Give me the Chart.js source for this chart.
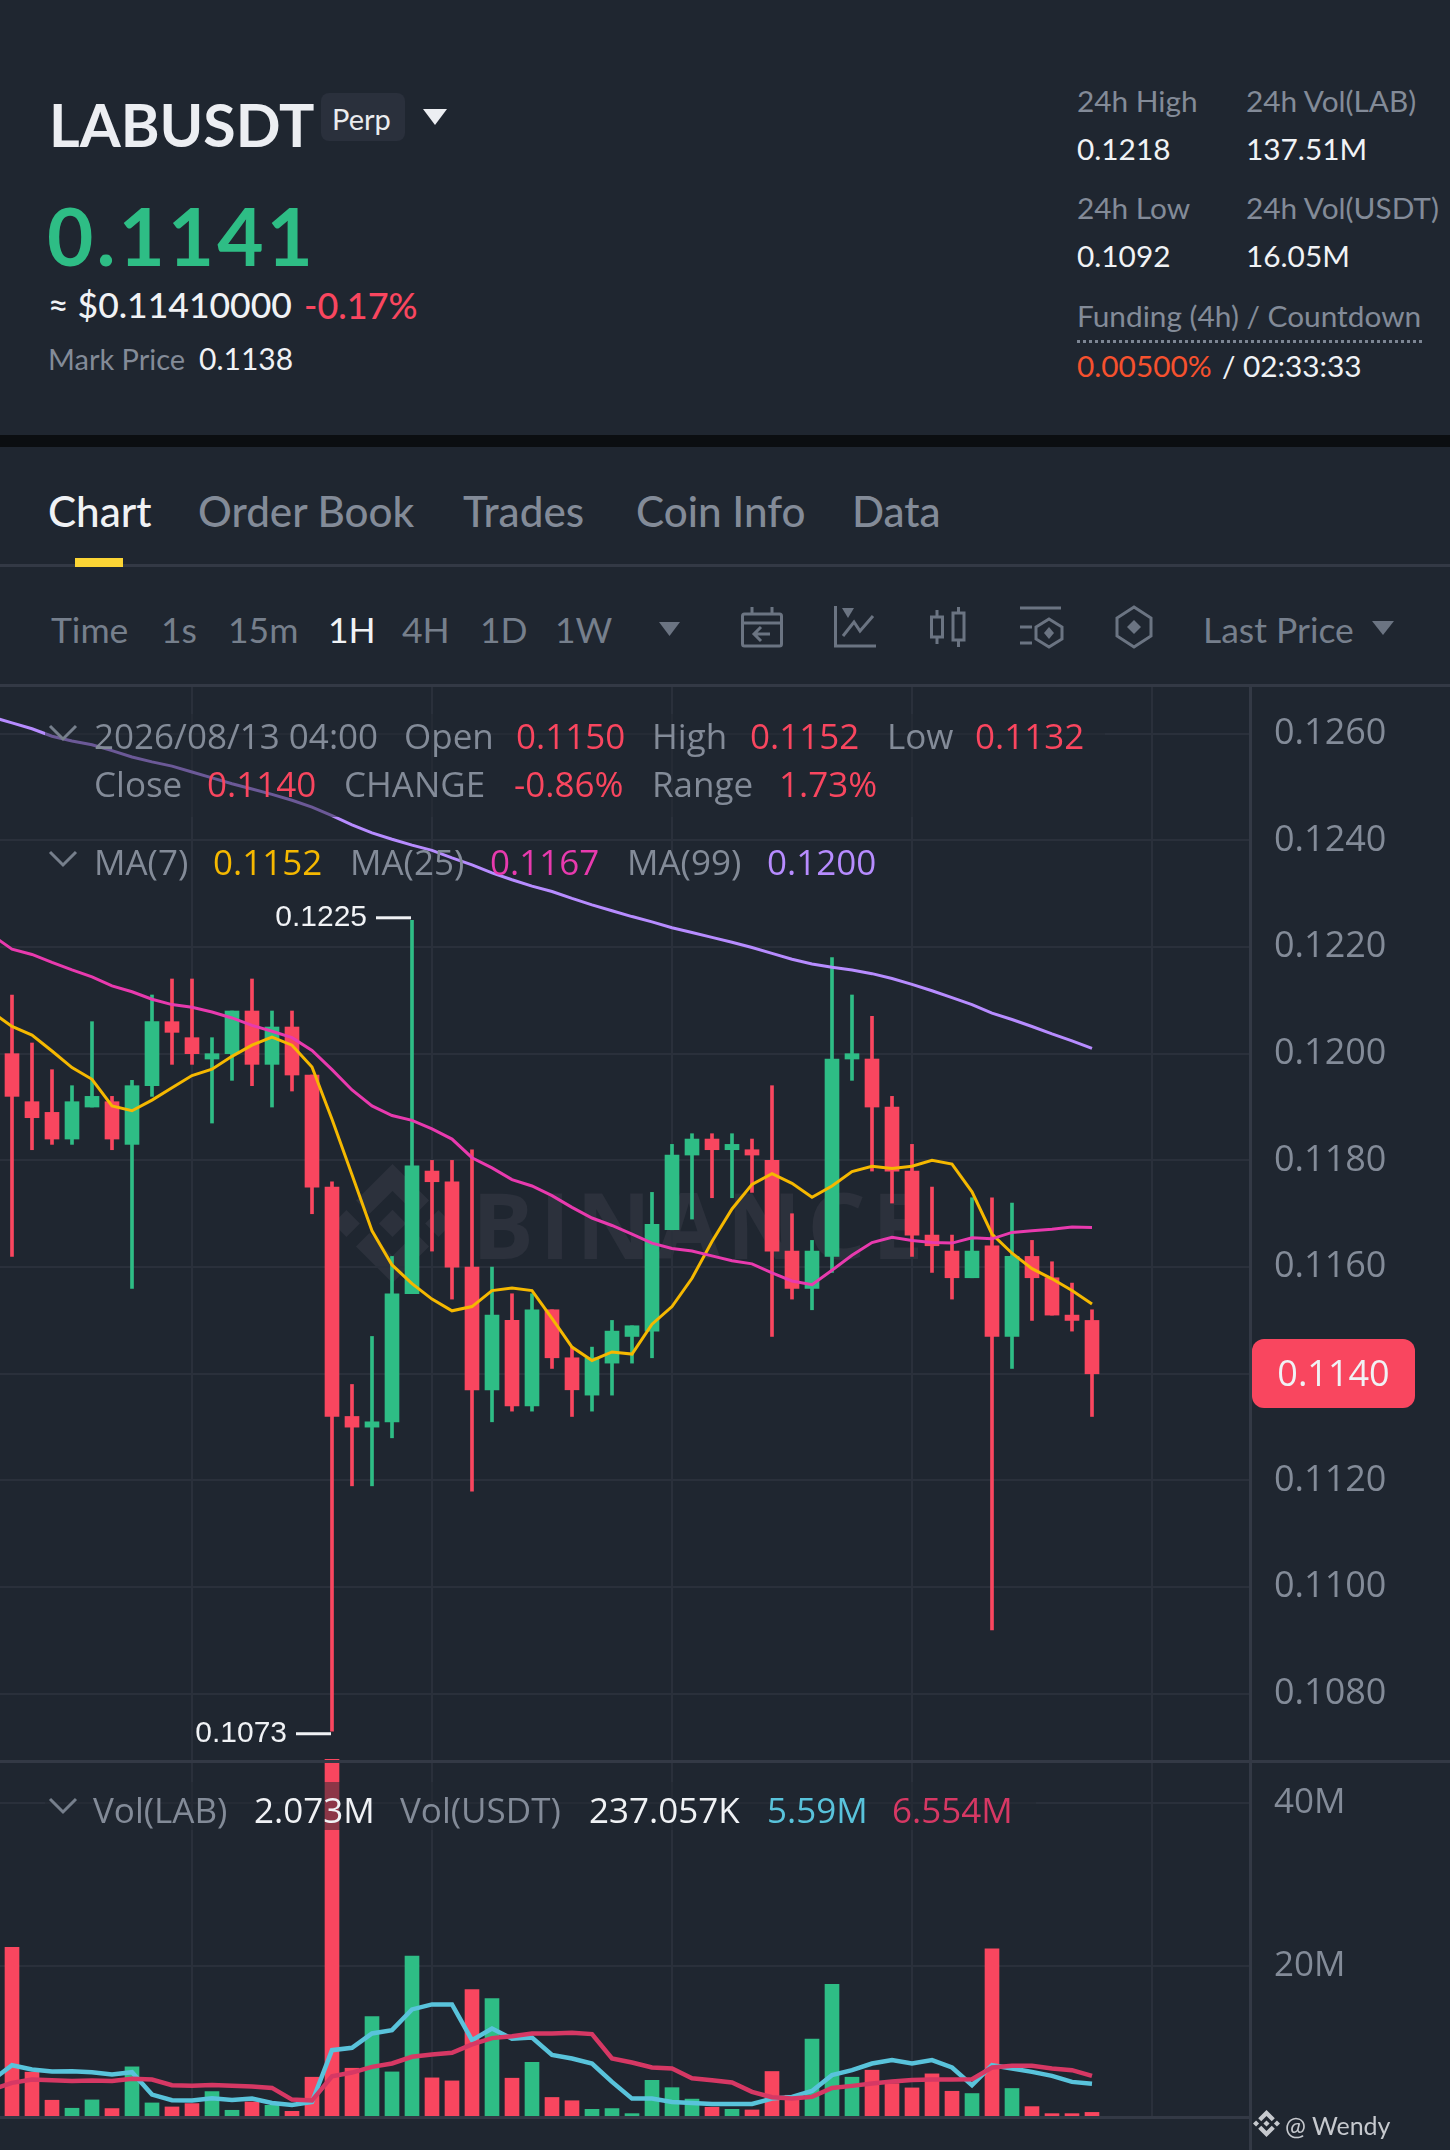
<!DOCTYPE html>
<html>
<head>
<meta charset="utf-8">
<title>LABUSDT Perp</title>
<script src="https://cdn.jsdelivr.net/npm/chart.js@4/dist/chart.umd.min.js"></script>
<style>
    html, body { margin: 0; padding: 0; background: #1f2630; }
    #page { position: relative; width: 1450px; height: 2150px; overflow: hidden; background: #1f2630; font-family: Lato, "Open Sans", sans-serif; color: #eaecef; }
    .t { position: absolute; transform: translateY(-50%); white-space: nowrap; line-height: 1; }
    .g { color: #838b98; }
    .w { color: #f0f2f5; }
    .r { color: #f9465f; }
    .i { color: #767f8c; }
    .rule { position: absolute; background: #333945; }
    .lg { font-size: 35px; font-family: "Open Sans", sans-serif; }
    .hd { font-size: 29.8px; }
    .tab { font-size: 42.2px; font-weight: 500; }
    .tf { font-size: 35.5px; }
    canvas { position: absolute; left: 0; }
    svg { position: absolute; overflow: visible; }
    .ico * { fill: none; stroke: #6b7482; stroke-width: 3; }
    .ico .solid { fill: #6b7482; stroke: none; }
    .legendbg { position: absolute; background: rgba(31, 38, 48, 0.5); }
</style>
</head>
<body>
<div id="page">
    <!-- summary block -->
    <div class="t" style="left:49px;top:124px;font-size:59px;font-weight:700;color:#eceef2;">LABUSDT</div>
    <div style="position:absolute;left:321px;top:93px;width:84px;height:48px;background:#2a303c;border-radius:8px;"></div>
    <div class="t" style="left:332px;top:118px;font-size:29px;">Perp</div>
    <svg style="left:422px;top:109px;" width="26" height="16"><path d="M1 0H25L13 16Z" fill="#eceef2"/></svg>
    <div class="t" style="left:47px;top:235px;font-size:80px;font-weight:700;letter-spacing:3px;color:#2ebd85;">0.1141</div>
    <div class="t w" style="left:48px;top:305px;font-size:35.5px;font-weight:500;">≈ $0.11410000</div>
    <div class="t r" style="left:304px;top:305px;font-size:36px;font-weight:500;">-0.17%</div>
    <div class="t g" style="left:48px;top:358px;font-size:29px;">Mark Price</div>
    <div class="t w" style="left:199px;top:358px;font-size:30px;">0.1138</div>

    <div class="t g hd" style="left:1077px;top:100.5px;">24h High</div>
    <div class="t g hd" style="left:1246px;top:100.5px;">24h Vol(LAB)</div>
    <div class="t w hd" style="left:1077px;top:148.5px;">0.1218</div>
    <div class="t w hd" style="left:1246px;top:148.5px;">137.51M</div>
    <div class="t g hd" style="left:1077px;top:208px;">24h Low</div>
    <div class="t g hd" style="left:1246px;top:208px;">24h Vol(USDT)</div>
    <div class="t w hd" style="left:1077px;top:256px;">0.1092</div>
    <div class="t w hd" style="left:1246px;top:256px;">16.05M</div>
    <div class="t g hd" style="left:1077px;top:316px;">Funding (4h) / Countdown</div>
    <div style="position:absolute;left:1077px;top:340px;width:345px;border-top:3px dotted #7d8694;"></div>
    <div class="t hd" style="left:1077px;top:366px;color:#f6512e;">0.00500%</div>
    <div class="t w hd" style="left:1222px;top:366px;">/</div>
    <div class="t w hd" style="left:1243px;top:366px;">02:33:33</div>

    <div style="position:absolute;left:0;top:435px;width:1450px;height:12px;background:#0b0e11;"></div>

    <!-- tabs -->
    <div class="t tab w" style="left:48px;top:511px;">Chart</div>
    <div class="t tab g" style="left:198px;top:511px;">Order Book</div>
    <div class="t tab g" style="left:463px;top:511px;">Trades</div>
    <div class="t tab g" style="left:636px;top:511px;">Coin Info</div>
    <div class="t tab g" style="left:852px;top:511px;">Data</div>
    <div class="rule" style="left:0;top:564px;width:1450px;height:3px;"></div>
    <div style="position:absolute;left:75px;top:558px;width:48px;height:9px;background:#fcd535;"></div>

    <!-- interval toolbar -->
    <div class="t tf i" style="left:51px;top:630px;">Time</div>
    <div class="t tf i" style="left:161px;top:630px;">1s</div>
    <div class="t tf i" style="left:228px;top:630px;">15m</div>
    <div class="t tf w" style="left:328px;top:630px;">1H</div>
    <div class="t tf i" style="left:402px;top:630px;">4H</div>
    <div class="t tf i" style="left:480px;top:630px;">1D</div>
    <div class="t tf i" style="left:555px;top:630px;">1W</div>
    <svg style="left:659px;top:622px;" width="21" height="14"><path d="M0 0H21L10.5 14Z" fill="#6b7482"/></svg>
    <svg class="ico" style="left:741px;top:606px;" width="42" height="42">
        <rect x="1.5" y="8" width="39" height="32" rx="2"/><path d="M1.5 17H40.5M11 1V8M31 1V8M29 28H14M20 21L13 28L20 35"/>
    </svg>
    <svg class="ico" style="left:834px;top:606px;" width="42" height="42">
        <path d="M1.5 0V40H42M9 30L20 16L26 25L39 10"/><path class="solid" d="M8 2H20L14 12Z"/>
    </svg>
    <svg class="ico" style="left:930px;top:606px;" width="36" height="42">
        <rect x="1.5" y="11" width="11" height="20"/><rect x="23" y="7" width="11" height="27"/><path d="M7 4V11M7 31V38M28.5 1V7M28.5 34V41"/>
    </svg>
    <svg class="ico" style="left:1020px;top:606px;" width="42" height="42">
        <path d="M0 2H41M0 21H12M0 37H12M29 13L42 21V33L29 41L16 33V21Z"/><path class="solid" d="M29 21L34 27L29 33L24 27Z"/>
    </svg>
    <svg class="ico" style="left:1116px;top:606px;" width="36" height="42">
        <path d="M18 1L35 12V30L18 41L1 30V12Z"/><path class="solid" d="M18 14L25 21L18 28L11 21Z"/>
    </svg>
    <div class="t tf i" style="left:1203px;top:630px;">Last Price</div>
    <svg style="left:1372px;top:621px;" width="22" height="14"><path d="M0 0H22L11 14Z" fill="#6b7482"/></svg>
    <div class="rule" style="left:0;top:684px;width:1450px;height:3px;"></div>

    <!-- watermark sits under the canvases -->
    <svg style="left:333px;top:1164px;" width="119" height="119" viewBox="0 0 126.61 126.61" fill="#2c313c">
        <path d="M38.73 53.2l24.59-24.58 24.6 24.6 14.3-14.31L63.32 0 24.43 38.9z"/>
        <path d="M0 63.31l14.3-14.31 14.31 14.31-14.31 14.3z"/>
        <path d="M38.73 73.41l24.59 24.59 24.6-24.6 14.31 14.29L63.32 126.61 24.42 87.72z"/>
        <path d="M98 63.31l14.3-14.31 14.31 14.3-14.31 14.32z"/>
        <path d="M77.83 63.3L63.32 48.78 48.81 63.28l14.51 14.5z"/>
    </svg>
    <div class="t" style="left:472px;top:1224px;font-family:'Open Sans',sans-serif;font-size:92px;font-weight:700;letter-spacing:6px;color:#2c313c;">BINANCE</div>

    <canvas id="priceChart" style="top:687px;"></canvas>
    <canvas id="volumeChart" style="top:1759px;"></canvas>

    <div class="rule" style="left:0;top:1760px;width:1450px;height:3px;"></div>
    <div class="rule" style="left:0;top:2116px;width:1250px;height:3px;"></div>
    <div class="rule" style="left:1249px;top:687px;width:3px;height:1463px;"></div>

    <!-- legends -->
    <div class="legendbg" style="left:45px;top:714px;width:1060px;height:103px;"></div>
    <svg style="left:49px;top:725px;" width="28" height="16"><path d="M1 1L14 14L27 1" fill="none" stroke="#767f8c" stroke-width="3"/></svg>
    <div class="t lg g" style="left:94px;top:735px;">2026/08/13 04:00</div>
    <div class="t lg g" style="left:404px;top:735px;">Open</div>
    <div class="t lg r" style="left:516px;top:735px;">0.1150</div>
    <div class="t lg g" style="left:652px;top:735px;">High</div>
    <div class="t lg r" style="left:750px;top:735px;">0.1152</div>
    <div class="t lg g" style="left:887px;top:735px;">Low</div>
    <div class="t lg r" style="left:975px;top:735px;">0.1132</div>
    <div class="t lg g" style="left:94px;top:783px;">Close</div>
    <div class="t lg r" style="left:207px;top:783px;">0.1140</div>
    <div class="t lg g" style="left:344px;top:783px;">CHANGE</div>
    <div class="t lg r" style="left:514px;top:783px;">-0.86%</div>
    <div class="t lg g" style="left:652px;top:783px;">Range</div>
    <div class="t lg r" style="left:779px;top:783px;">1.73%</div>

    <svg style="left:49px;top:851px;" width="28" height="16"><path d="M1 1L14 14L27 1" fill="none" stroke="#767f8c" stroke-width="3"/></svg>
    <div class="t lg g" style="left:94px;top:861px;">MA(7)</div>
    <div class="t lg" style="left:213px;top:861px;color:#f5b800;">0.1152</div>
    <div class="t lg g" style="left:350px;top:861px;">MA(25)</div>
    <div class="t lg" style="left:490px;top:861px;color:#e83aae;">0.1167</div>
    <div class="t lg g" style="left:627px;top:861px;">MA(99)</div>
    <div class="t lg" style="left:767px;top:861px;color:#b78cff;">0.1200</div>

    <div class="legendbg" style="left:45px;top:1782px;width:991px;height:48px;"></div>
    <svg style="left:49px;top:1798px;" width="28" height="16"><path d="M1 1L14 14L27 1" fill="none" stroke="#767f8c" stroke-width="3"/></svg>
    <div class="t lg g" style="left:93px;top:1809px;">Vol(LAB)</div>
    <div class="t lg w" style="left:254px;top:1809px;">2.073M</div>
    <div class="t lg g" style="left:400px;top:1809px;">Vol(USDT)</div>
    <div class="t lg w" style="left:589px;top:1809px;">237.057K</div>
    <div class="t lg" style="left:767px;top:1809px;color:#59c3db;">5.59M</div>
    <div class="t lg" style="left:892px;top:1809px;color:#d63864;">6.554M</div>

    <!-- last price tag -->
    <div style="position:absolute;left:1252px;top:1339px;width:163px;height:69px;background:#f9465f;border-radius:12px;"></div>
    <div class="t" style="left:1252px;top:1373px;width:163px;text-align:center;font-family:'Open Sans',sans-serif;font-size:36px;color:#f0f2f5;">0.1140</div>

    <svg style="left:1253px;top:2110px;" width="27" height="27" viewBox="0 0 126.61 126.61" fill="#c6c9ce">
        <path d="M38.73 53.2l24.59-24.58 24.6 24.6 14.3-14.31L63.32 0 24.43 38.9z"/>
        <path d="M0 63.31l14.3-14.31 14.31 14.31-14.31 14.3z"/>
        <path d="M38.73 73.41l24.59 24.59 24.6-24.6 14.31 14.29L63.32 126.61 24.42 87.72z"/>
        <path d="M98 63.31l14.3-14.31 14.31 14.3-14.31 14.32z"/>
        <path d="M77.83 63.3L63.32 48.78 48.81 63.28l14.51 14.5z"/>
    </svg>
    <div class="t" style="left:1285px;top:2125px;font-size:25px;color:#c6c9ce;">@ Wendy</div>
</div>

<script>
// Hourly candles
const openPrices = [.1200,.1191,.1189,.1184,.1190,.1191,.1183,.1194,.1206,.1203,.1199,.1200,.1208,.1198,.1205,.1196,.1175,.1132,.1130,.1131,.1155,.1178,.1176,.1160,.1137,.1150,.1134,.1152,.1143,.1136,.1142,.1147,.1148,.1167,.1181,.1184,.1182,.1182,.1180,.1163,.1156,.1162,.1199,.1199,.1190,.1178,.1166,.1163,.1158,.1164,.1147,.1162,.1158,.1151,.1150];
const closePrices = [.1192,.1188,.1184,.1191,.1192,.1184,.1194,.1206,.1204,.1200,.1200,.1208,.1198,.1205,.1196,.1175,.1132,.1130,.1131,.1155,.1179,.1176,.1160,.1137,.1151,.1134,.1152,.1143,.1137,.1143,.1148,.1149,.1168,.1181,.1184,.1182,.1183,.1181,.1163,.1156,.1163,.1199,.1200,.1190,.1178,.1166,.1164,.1158,.1163,.1147,.1162,.1158,.1151,.1150,.1140];
const highPrices = [.1211,.1202,.1197,.1194,.1206,.1192,.1195,.1211,.1214,.1214,.1203,.1208,.1214,.1208,.1208,.1196,.1176,.1138,.1147,.1162,.1225,.1180,.1180,.1182,.1160,.1155,.1155,.1152,.1145,.1145,.1150,.1149,.1174,.1183,.1185,.1185,.1185,.1184,.1194,.1170,.1165,.1218,.1211,.1207,.1192,.1183,.1175,.1166,.1173,.1173,.1172,.1165,.1161,.1157,.1152];
const lowPrices = [.1162,.1182,.1183,.1183,.1190,.1182,.1156,.1192,.1198,.1198,.1187,.1195,.1194,.1190,.1193,.1170,.1073,.1119,.1119,.1128,.1155,.1163,.1154,.1118,.1131,.1133,.1133,.1141,.1132,.1133,.1136,.1142,.1143,.1167,.1169,.1173,.1173,.1174,.1147,.1154,.1152,.1159,.1195,.1178,.1172,.1162,.1159,.1154,.1158,.1092,.1141,.1150,.1151,.1148,.1132];
const volumes = [22.3,7.0,3.56,2.58,3.6,2.54,7.65,3.23,2.74,3.15,4.62,2.33,3.35,2.94,2.2,6.38,47.5,7.48,13.8,7.03,21.2,6.3,5.93,17.1,16.0,6.26,8.2,3.9,3.5,2.45,2.54,1.92,6.0,5.1,3.7,2.7,2.45,2.37,7.08,4.17,11.04,17.75,6.38,7.24,5.6,5.07,6.79,4.66,4.38,22.1,5.0,2.78,1.92,1.92,2.07];

// Moving averages start one candle earlier, just left of the visible area
const ma7 = [.12078,.12051,.12035,.12005,.11974,.11952,.11902,.11893,.11913,.11936,.11959,.11971,.11995,.12016,.12031,.12016,.11975,.11877,.11773,.11668,.11604,.11569,.11540,.11518,.11526,.11556,.11561,.11556,.11504,.11450,.11425,.11441,.11437,.11493,.11526,.11579,.11648,.11709,.11755,.11775,.11757,.11731,.11752,.11779,.11789,.11785,.11789,.11800,.11793,.11741,.11662,.11626,.11597,.11578,.11556,.11531];
const ma25 = [.12222,.12196,.12186,.12171,.12157,.12144,.12127,.12116,.12102,.12092,.12087,.12078,.12067,.12053,.12042,.12030,.12006,.11970,.11932,.11902,.11884,.11875,.11859,.11840,.11805,.11786,.11764,.11752,.11734,.11712,.11692,.11678,.11662,.11645,.11635,.11630,.11621,.11612,.11606,.11589,.11574,.11567,.11594,.11622,.11646,.11656,.11650,.11646,.11645,.11655,.11653,.11665,.11668,.11671,.11675,.11674];
const ma99 = [.12631,.12620,.12609,.12595,.12586,.12579,.12568,.12556,.12547,.12539,.12528,.12517,.12506,.12496,.12486,.12475,.12462,.12446,.12429,.12414,.12402,.12391,.12381,.12367,.12354,.12339,.12326,.12314,.12304,.12291,.12279,.12268,.12257,.12247,.12236,.12227,.12218,.12209,.12199,.12188,.12177,.12168,.12162,.12157,.12150,.12141,.12130,.12118,.12105,.12092,.12076,.12064,.12051,.12037,.12024,.12010];
const volMaShort = [6.01,7.85,7.32,7.08,7.12,6.99,6.71,6.99,4.25,3.56,3.52,3.80,3.60,3.76,3.23,2.99,3.35,9.69,9.98,11.74,12.15,14.68,15.30,15.30,10.92,12.35,11.08,11.25,9.10,8.67,8.06,5.81,3.76,3.76,3.35,3.23,3.11,3.11,3.11,3.76,3.97,4.70,6.63,7.24,8.06,8.47,8.06,8.47,7.57,5.40,7.85,7.44,7.03,6.54,5.81,5.59];
const volMaLong = [4.87,5.69,6.09,6.01,5.93,5.97,5.93,6.18,6.09,5.40,5.32,5.44,5.32,5.24,5.07,3.64,3.52,6.50,6.95,7.65,8.06,8.88,9.16,9.37,10.39,11.17,11.41,11.74,11.74,11.82,11.66,8.67,8.18,7.57,7.44,6.26,6.01,5.73,4.58,3.93,3.76,3.97,5.07,5.32,5.60,5.85,6.05,6.09,6.09,6.13,7.57,7.77,7.77,7.44,7.24,6.55];

const priceTicks = [.108,.110,.112,.114,.116,.118,.120,.122,.124,.126];
const volumeTicks = [20,40];
const gridCandles = [9,21,33,45,57];
const extremes = [
    { candle: 20, price: .1225, side: -1 },
    { candle: 16, price: .1073, side: 1 }
];

const GREEN = '#2ebd85';
const RED = '#f9465f';
const GRID = '#2a303b';
const AXIS_TEXT = '#838b98';
const CHART_WIDTH = 1450;

const candleColors = openPrices.map((o, i) => closePrices[i] >= o ? GREEN : RED);

function bars(lows, tops) {
    return lows.map((v, i) => ({ x: i, y: [v, tops[i]] }));
}

function line(values, color, width) {
    return {
        type: 'line',
        data: values.map((v, i) => ({ x: i - 1, y: v })),
        borderColor: color,
        borderWidth: width,
        pointRadius: 0,
        tension: 0,
        order: 1
    };
}

function sharedXAxis() {
    return {
        type: 'linear',
        min: -0.6,
        max: 61.9,
        offset: false,
        border: { display: false },
        grid: { color: GRID, lineWidth: 2, drawTicks: false, offset: false },
        ticks: { display: false, autoSkip: false },
        afterBuildTicks: axis => { axis.ticks = gridCandles.map(value => ({ value })); },
        afterFit: axis => { axis.height = 0; }
    };
}

function sideAxis(min, max, ticks, fontSize, format) {
    return {
        position: 'right',
        min,
        max,
        border: { display: false },
        grid: { color: GRID, lineWidth: 2, drawTicks: false },
        ticks: {
            color: AXIS_TEXT,
            padding: 24,
            autoSkip: false,
            font: { family: 'Open Sans', size: fontSize },
            callback: format
        },
        afterBuildTicks: axis => { axis.ticks = ticks.map(value => ({ value })); },
        // tick padding would otherwise shrink the plot top and bottom
        afterFit: axis => {
            axis.width = 200;
            axis.paddingTop = 0;
            axis.paddingBottom = 0;
        }
    };
}

// High and low call-outs next to the wick
const extremeLabels = {
    id: 'extremeLabels',
    afterDatasetsDraw(chart) {
        const { ctx, scales } = chart;
        ctx.save();
        ctx.font = '30px "Liberation Sans"';
        ctx.fillStyle = '#f0f2f5';
        ctx.textAlign = 'right';
        ctx.textBaseline = 'middle';
        extremes.forEach(e => {
            const x = scales.x.getPixelForValue(e.candle);
            const y = scales.y.getPixelForValue(e.price) + e.side * 2.5;
            ctx.fillRect(x - 36, y - 1.5, 35, 3);
            ctx.fillText(e.price.toFixed(4), x - 45, y);
        });
        ctx.restore();
    }
};

const baseOptions = {
    responsive: false,
    animation: false,
    maintainAspectRatio: false,
    layout: { padding: 0, autoPadding: false },
    plugins: { legend: { display: false }, tooltip: { enabled: false } }
};

function sizeCanvas(id, height) {
    const el = document.getElementById(id);
    el.width = CHART_WIDTH;
    el.height = height;
    el.style.width = CHART_WIDTH + 'px';
    el.style.height = height + 'px';
    return el;
}

// Candles are two floating bars per hour: a thin wick and a wide body
new Chart(sizeCanvas('priceChart', 1073), {
    type: 'bar',
    data: {
        datasets: [
            { data: bars(lowPrices, highPrices), backgroundColor: candleColors, barThickness: 3, grouped: false, order: 3 },
            { data: bars(openPrices, closePrices), backgroundColor: candleColors, barThickness: 14, grouped: false, order: 2 },
            line(ma99, '#b78cff', 3),
            line(ma25, '#e83aae', 3),
            line(ma7, '#f5b800', 3)
        ]
    },
    options: {
        ...baseOptions,
        scales: {
            x: sharedXAxis(),
            y: sideAxis(.106761, .126873, priceTicks, 36, v => v.toFixed(4))
        }
    },
    plugins: [extremeLabels]
});

new Chart(sizeCanvas('volumeChart', 357), {
    type: 'bar',
    data: {
        datasets: [
            { data: volumes.map((v, i) => ({ x: i, y: v })), backgroundColor: candleColors, barThickness: 14, grouped: false, order: 2 },
            line(volMaLong, '#d63864', 4.5),
            line(volMaShort, '#59c3db', 4.5)
        ]
    },
    options: {
        ...baseOptions,
        scales: {
            x: sharedXAxis(),
            y: sideAxis(1.63, 45.35, volumeTicks, 35, v => v + 'M')
        }
    }
});
</script>
</body>
</html>
